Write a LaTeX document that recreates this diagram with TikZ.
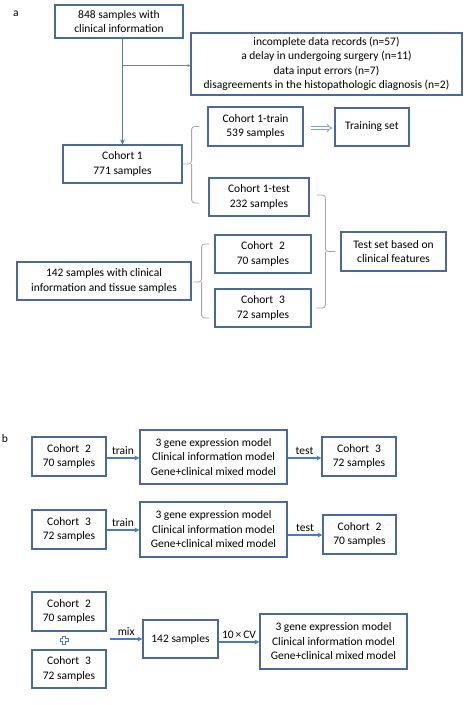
\documentclass[tikz,border=0pt]{standalone}
\usepackage{fontspec}
\setmainfont{Carlito}
\usetikzlibrary{calc,arrows.meta}

\definecolor{boxblue}{HTML}{4A6B94}
\definecolor{arrblue}{HTML}{4A7EBB}
\definecolor{hollow}{HTML}{7F9FCF}
\definecolor{bracegray}{HTML}{A6A6A6}

\tikzset{
  stagebox/.style={draw=boxblue, line width=1.2pt, fill=white, align=center, inner sep=1pt,
    font=\fontsize{11.5}{14.5}\selectfont},
  flow/.style={arrblue, line width=1.3pt, -{Stealth[length=5pt,width=5pt]}},
  thinflow/.style={gray, line width=0.6pt, -{Stealth[length=3pt,width=3pt]}},
  bracket/.style={bracegray, line width=0.8pt, rounded corners=3pt},
  tag/.style={text=black, font=\fontsize{11.5}{13}\selectfont, inner sep=1pt},
  steplabel/.style={tag, above, yshift=2pt}
}

\begin{document}
\begin{tikzpicture}[x=1pt,y=-1pt]
\useasboundingbox (0,0) rectangle (474,705);

% panel a
\node[tag] (la) at (16,14) {a};
\node[stagebox, minimum width=128, minimum height=33] (all) at (119,21.5) {848 samples with\\clinical information};
\node[stagebox, minimum width=271, minimum height=62] (excl) at (326.5,64) {incomplete data records (n=57)\\a delay in undergoing surgery (n=11)\\data input errors (n=7)\\disagreements in the histopathologic diagnosis (n=2)};
\node[stagebox, minimum width=119, minimum height=38] (coh1) at (122.5,164) {Cohort 1\\771 samples};
\node[stagebox, minimum width=95, minimum height=39] (train) at (255.5,126.5) {Cohort 1-train\\539 samples};
\node[stagebox, minimum width=74, minimum height=38] (trainset) at (372,127) {Training set};
\node[stagebox, minimum width=100, minimum height=38] (test) at (259,197) {Cohort 1-test\\232 samples};
\node[stagebox, minimum width=105, minimum height=39] (testset) at (393.5,251.5) {Test set based on\\clinical features};
\node[stagebox, minimum width=96, minimum height=38] (coh2) at (263,254) {Cohort\enspace 2\\70 samples};
\node[stagebox, minimum width=96, minimum height=38] (coh3) at (263,308) {Cohort\enspace 3\\72 samples};
\node[stagebox, minimum width=174, minimum height=38] (new) at (104,281) {142 samples with clinical\\information and tissue samples};

\draw[flow] (coh1.north |- all.south) -- (coh1.north);
\coordinate (split) at ($(coh1.north |- all.south)+(0,27)$);
\draw[thinflow] (split) -- (split -| excl.west);
\draw[hollow, double=white, double distance=2pt, line width=0.8pt, -{Implies}] ($(train.east)+(7,1.5)$) -- ($(trainset.west)+(-2,1)$);

% brackets
\draw[bracket] ($(train.west)+(-8,0)$) -| ($(coh1.east)+(9,0)$) -- (coh1.east);
\draw[bracket] ($(test.west)+(-9,6)$) -| ($(coh1.east)+(9,0)$);
\draw[bracket] ($(test.east)+(7,-2)$) -| ($(testset.west)+(-15,0)$) -- ($(testset.west)+(-5,0)$);
\draw[bracket] ($(coh3.east)+(5,0)$) -| ($(testset.west)+(-15,0)$);
\draw[bracket] ($(coh2.west)+(-5,-10)$) -| ($(new.east)+(10,1)$) -- ($(new.east)+(2,1)$);
\draw[bracket] ($(coh3.west)+(-5,10)$) -| ($(new.east)+(10,1)$);

% panel b
\node[tag] (lb) at (5,439) {b};
\node[stagebox, minimum width=74, minimum height=39] (ac2) at (69,456.5) {Cohort\enspace 2\\70 samples};
\node[stagebox, minimum width=147, minimum height=54] (am) at (213.5,457) {3 gene expression model\\Clinical information model\\Gene+clinical mixed model};
\node[stagebox, minimum width=74, minimum height=39] (ac3) at (359,456.5) {Cohort\enspace 3\\72 samples};
\draw[flow] (ac2.east |- 0,458) -- node[steplabel] {train} (am.west |- 0,458);
\draw[flow] (am.east |- 0,458) -- node[steplabel] {test} (ac3.west |- 0,458);

\node[stagebox, minimum width=74, minimum height=39] (bc3) at (69,529.5) {Cohort\enspace 3\\72 samples};
\node[stagebox, minimum width=147, minimum height=55] (bm) at (213.5,529.5) {3 gene expression model\\Clinical information model\\Gene+clinical mixed model};
\node[stagebox, minimum width=73, minimum height=39] (bc2) at (359.5,534.5) {Cohort\enspace 2\\70 samples};
\draw[flow] (bc3.east |- 0,530) -- node[steplabel] {train} (bm.west |- 0,530);
\draw[flow] (bm.east |- 0,535) -- node[steplabel] {test} (bc2.west |- 0,535);

\node[stagebox, minimum width=74, minimum height=39] (cc2) at (69,611.5) {Cohort\enspace 2\\70 samples};
\node[stagebox, minimum width=74, minimum height=38] (cc3) at (69,669) {Cohort\enspace 3\\72 samples};
\node[stagebox, minimum width=75, minimum height=38] (mixed) at (180.5,639) {142 samples};
\node[stagebox, minimum width=147, minimum height=55] (cm) at (333.5,641.5) {3 gene expression model\\Clinical information model\\Gene+clinical mixed model};
\draw[arrblue, line width=0.8pt, fill=white] (62.5,636) -- (65.5,636) -- (65.5,638.5) -- (68,638.5) -- (68,641.5) -- (65.5,641.5) -- (65.5,644) -- (62.5,644) -- (62.5,641.5) -- (60,641.5) -- (60,638.5) -- (62.5,638.5) -- cycle;
\coordinate (mixfrom) at (110,639);
\draw[flow] (mixfrom) -- node[steplabel] {mix} (mixed.west);
\draw[flow] (mixed.east |- 0,642) -- node[steplabel] {10\,×\,CV} (cm.west |- 0,642);

\end{tikzpicture}
\end{document}
